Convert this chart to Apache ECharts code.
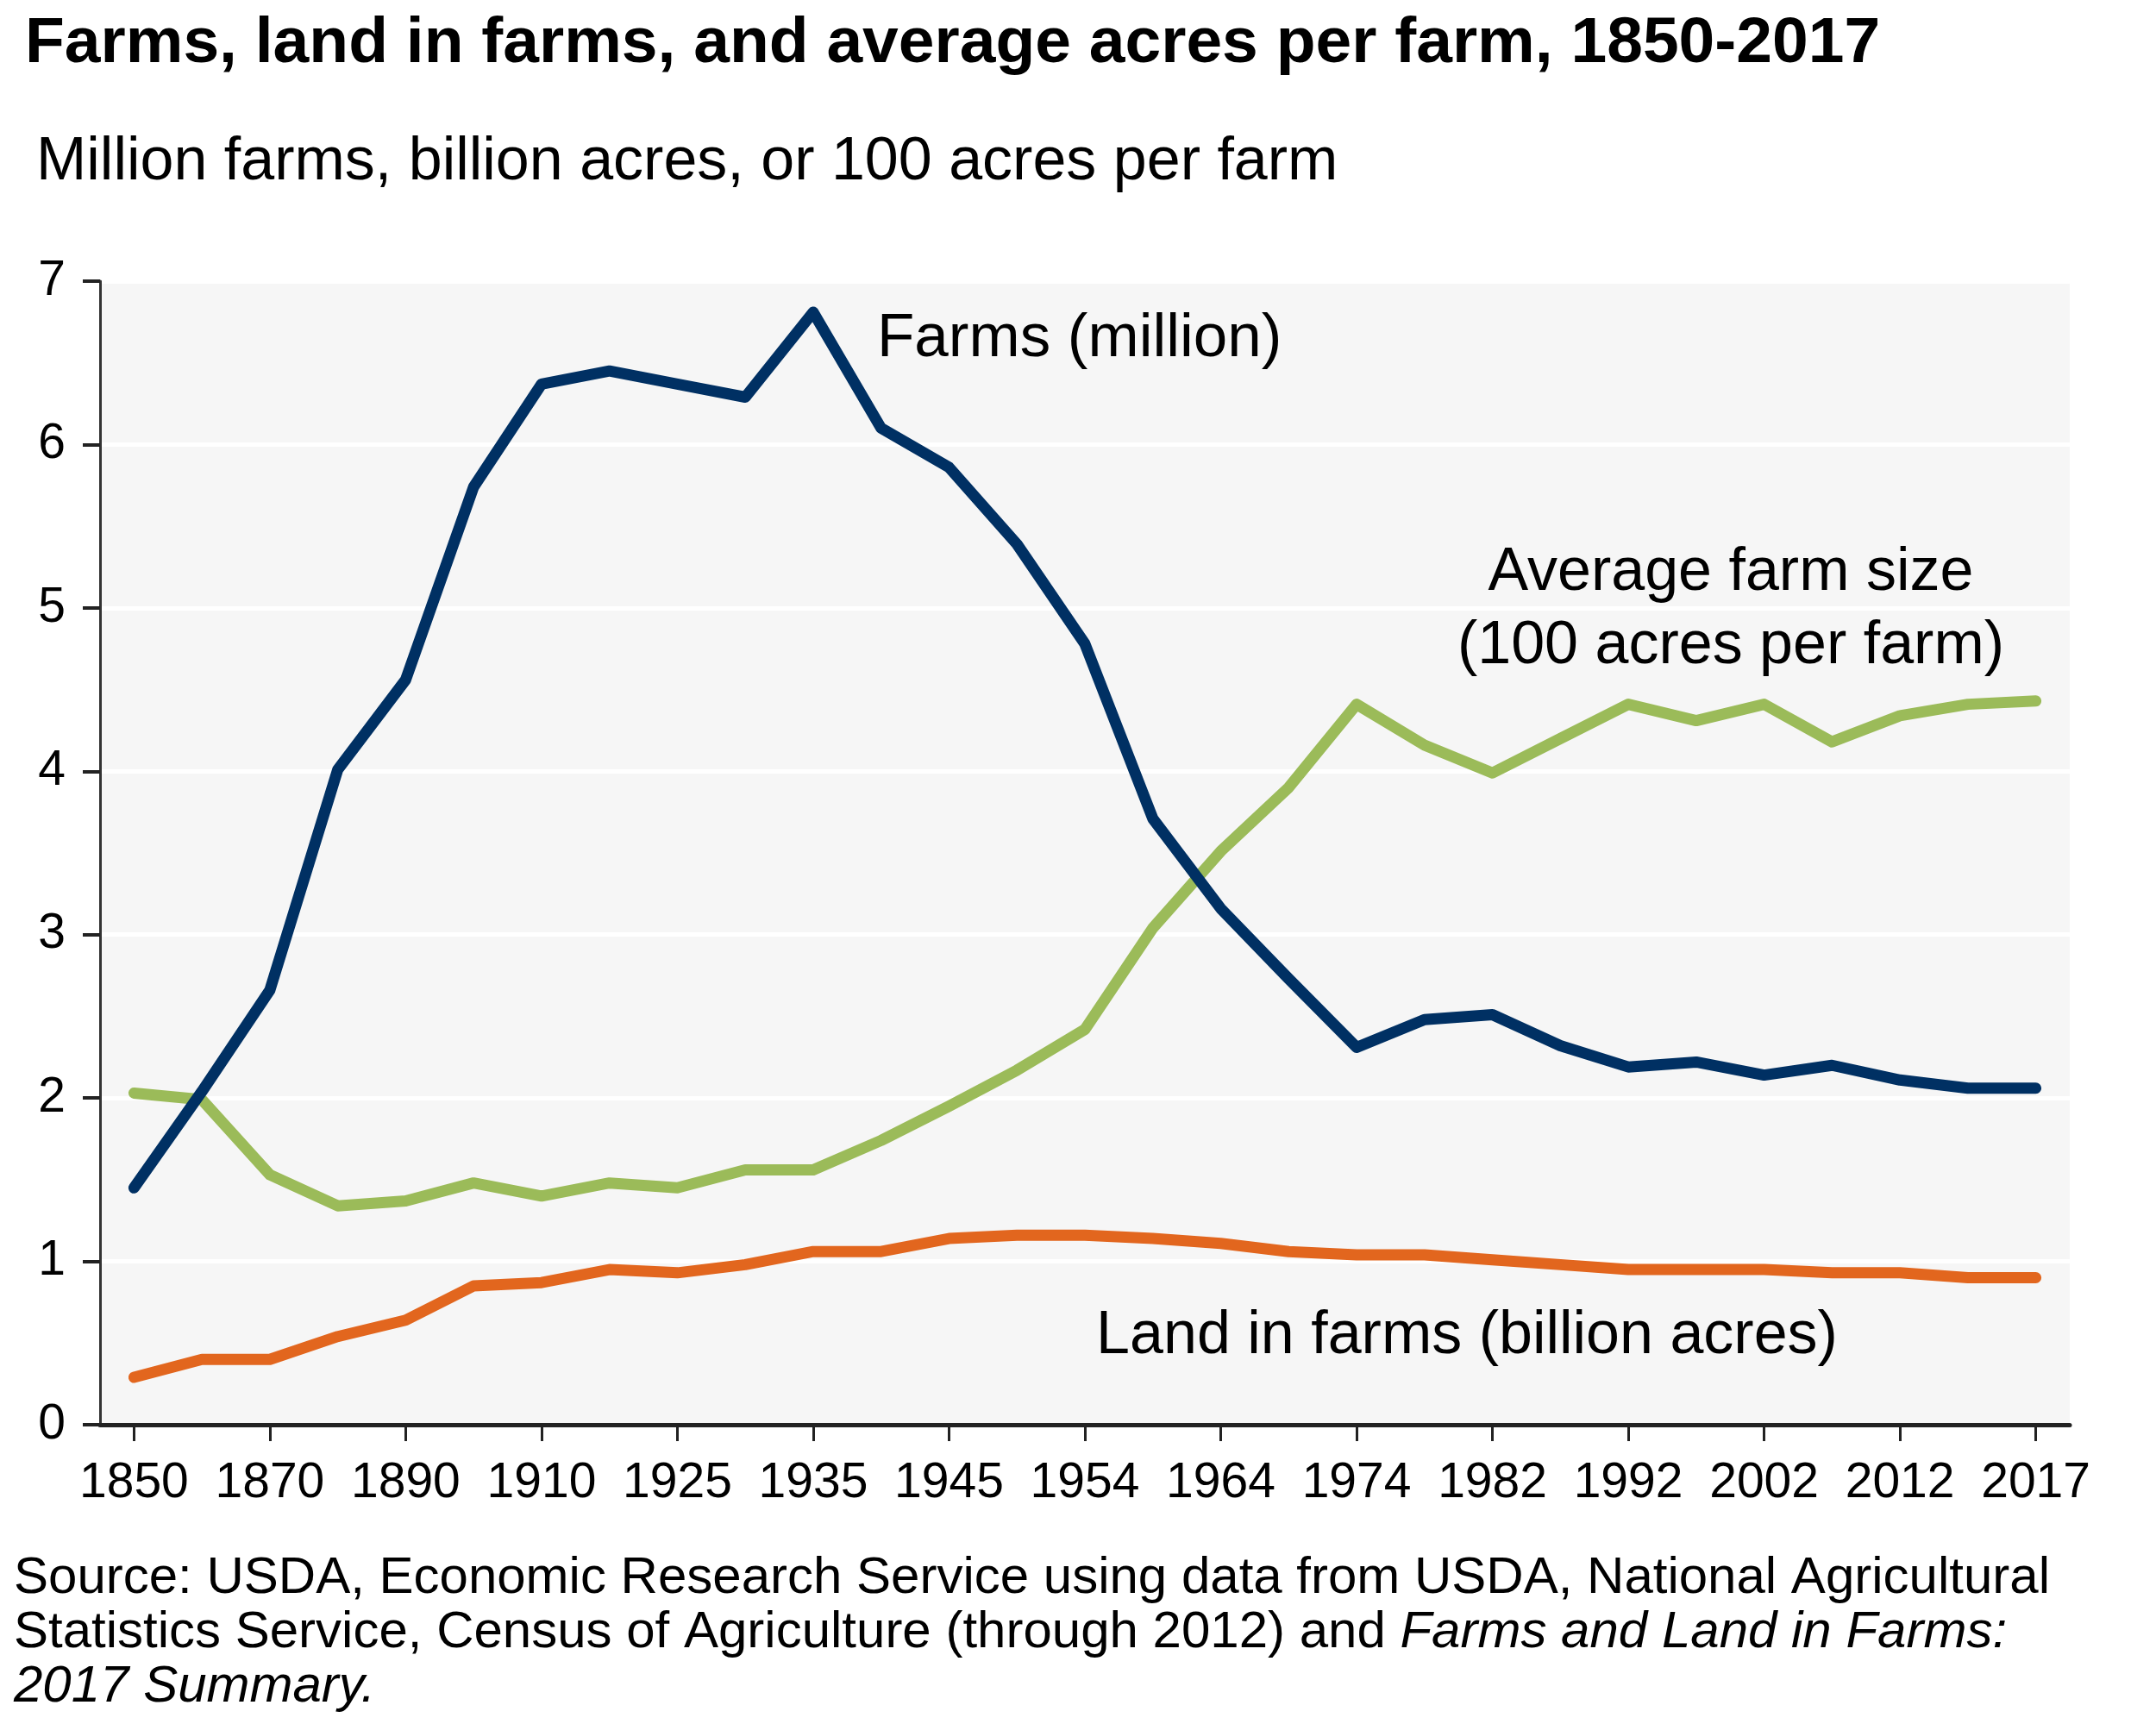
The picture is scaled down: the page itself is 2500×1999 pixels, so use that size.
<!DOCTYPE html>
<html><head><meta charset="utf-8">
<script src="https://cdn.jsdelivr.net/npm/echarts@6/dist/echarts.min.js"></script>
<style>html,body{margin:0;padding:0;background:#fff}#c{width:2500px;height:1999px}</style>
</head><body><div id="c"></div>
<script>
const years = ['1850','1860','1870','1880','1890','1900','1910','1920','1925','1930','1935','1940','1945','1950','1954','1959','1964','1969','1974','1978','1982','1987','1992','1997','2002','2007','2012','2015','2017'];
const farms = [1.45,2.04,2.66,4.01,4.56,5.74,6.37,6.45,6.37,6.29,6.81,6.10,5.86,5.39,4.78,3.71,3.16,2.73,2.31,2.48,2.51,2.32,2.19,2.22,2.14,2.20,2.11,2.06,2.06];
const farmSize = [2.03,1.99,1.53,1.34,1.37,1.48,1.40,1.48,1.45,1.56,1.56,1.74,1.95,2.17,2.42,3.04,3.51,3.90,4.41,4.16,3.99,4.20,4.41,4.31,4.41,4.18,4.34,4.41,4.43];
const land = [0.29,0.40,0.40,0.54,0.64,0.85,0.87,0.95,0.93,0.98,1.06,1.06,1.14,1.16,1.16,1.14,1.11,1.06,1.04,1.04,1.01,0.98,0.95,0.95,0.95,0.93,0.93,0.90,0.90];
const yTicks = [0,1,2,3,4,5,6,7];

const FONT = 'Liberation Sans, Arial, sans-serif';
const chart = echarts.init(document.getElementById('c'), null, {renderer:'canvas'});
chart.setOption({
  backgroundColor: '#ffffff',
  animation: false,
  grid: {left:116, right:100, top:326, bottom:347, show:true, backgroundColor:'#f6f6f6', borderWidth:0},
  xAxis: {
    type:'category', data: years, boundaryGap:true,
    axisLine:{lineStyle:{color:'#222', width:5}},
    axisTick:{show:true, interval:1, alignWithLabel:true, length:19, lineStyle:{color:'#222', width:3}},
    axisLabel:{interval:1, color:'#000', fontFamily:FONT, fontSize:57, margin:40}
  },
  yAxis: {
    type:'value', min:yTicks[0], max:yTicks[yTicks.length-1], interval:1,
    axisLine:{show:true, lineStyle:{color:'#333', width:3}},
    axisTick:{show:true, length:20, lineStyle:{color:'#222', width:4}},
    axisLabel:{color:'#000', fontFamily:FONT, fontSize:57, margin:40},
    splitLine:{show:true, lineStyle:{color:'#ffffff', width:5}}
  },
  series: [
    {name:'Farms (million)', type:'line', data:farms, symbol:'none', lineStyle:{color:'#003063', width:13, cap:'round', join:'round'}, z:3},
    {name:'Average farm size', type:'line', data:farmSize, symbol:'none', lineStyle:{color:'#9bbb59', width:13, cap:'round', join:'round'}, z:2},
    {name:'Land in farms', type:'line', data:land, symbol:'none', lineStyle:{color:'#e2661e', width:13, cap:'round', join:'round'}, z:2}
  ],
  graphic: [
    {type:'text', left:29, top:14, style:{text:'Farms, land in farms, and average acres per farm, 1850-2017', font:'bold 75px '+FONT, fill:'#000'}},
    {type:'text', left:42, top:154, style:{text:'Million farms, billion acres, or 100 acres per farm', font:'70px '+FONT, fill:'#000'}},
    {type:'text', x:1017, y:393, style:{text:'Farms (million)', font:'71px '+FONT, fill:'#000', align:'left', verticalAlign:'middle'}},
    {type:'text', x:2007, y:707, style:{text:'Average farm size\n(100 acres per farm)', font:'70px '+FONT, lineHeight:85, fill:'#000', align:'center', verticalAlign:'middle'}},
    {type:'text', x:1701, y:1550, style:{text:'Land in farms (billion acres)', font:'70px '+FONT, fill:'#000', align:'center', verticalAlign:'middle'}},
    {type:'text', left:16, top:1800, style:{
      text:'{n|Source: USDA, Economic Research Service using data from USDA, National Agricultural}\n{n|Statistics Service, Census of Agriculture (through 2012) and }{i|Farms and Land in Farms:}\n{i|2017 Summary.}',
      fill:'#000', font:'60px '+FONT,
      rich:{n:{fontFamily:FONT, fontSize:60, lineHeight:63, fill:'#000'}, i:{fontFamily:FONT, fontSize:60, fontStyle:'italic', lineHeight:63, fill:'#000'}}
    }}
  ]
});
</script></body></html>
